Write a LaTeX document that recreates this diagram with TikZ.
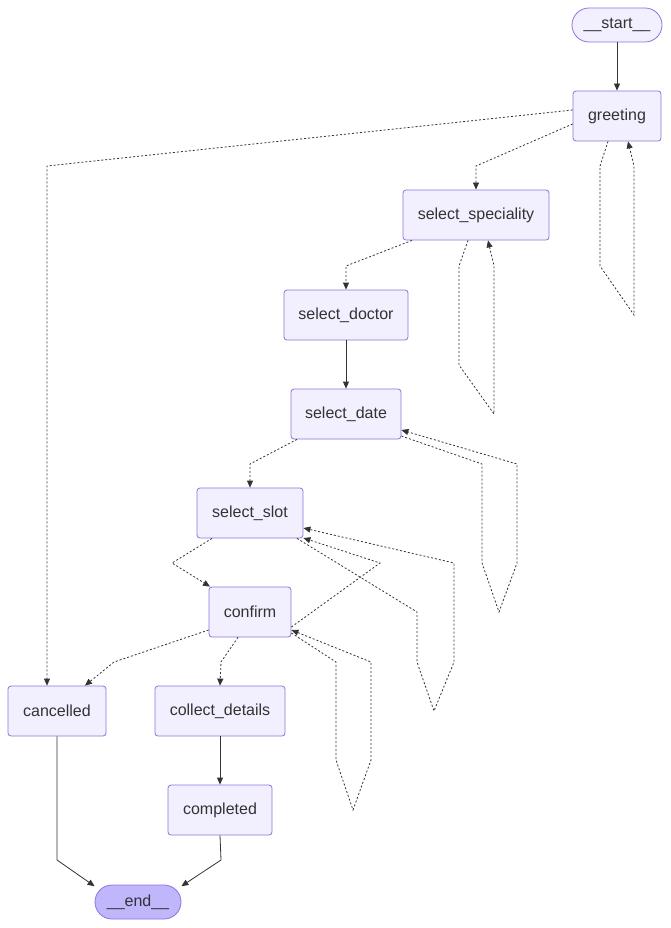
\documentclass[tikz,border=0pt]{standalone}
\usepackage{fontspec}
\setmainfont{Liberation Sans}
\usetikzlibrary{arrows.meta}
\definecolor{nodefill}{HTML}{F2F0FF}
\definecolor{nodeline}{HTML}{9370DB}
\definecolor{endfill}{HTML}{BFB6FC}
\definecolor{edgecol}{HTML}{333333}

\begin{document}
\begin{tikzpicture}[x=1pt, y=-1pt, >={Triangle[length=7pt,width=6pt]},
font=\fontsize{16}{19}\selectfont,
node_style/.style={rectangle,rounded corners=3pt,draw=nodeline,fill=nodefill,minimum height=50pt,line width=0.8pt,text=edgecol},
term_style/.style={node_style,rounded corners=17pt,minimum height=34pt},
edge_style/.style={draw=edgecol, line width=0.8pt, ->},
dotted_edge/.style={edge_style, dash pattern=on 2pt off 2pt}]
\useasboundingbox (0,0) rectangle (671,928);

\node[term_style,minimum width=90pt] (start) at (617,25) {\_\_start\_\_};
\node[node_style,minimum width=88pt] (greeting) at (617,116) {greeting};
\node[node_style,minimum width=146pt] (speciality) at (476,215) {select\_speciality};
\node[node_style,minimum width=124pt] (doctor) at (346,315) {select\_doctor};
\node[node_style,minimum width=110pt] (date) at (346,414) {select\_date};
\node[node_style,minimum width=106pt] (slot) at (250,513) {select\_slot};
\node[node_style,minimum width=82pt] (confirm) at (250,612) {confirm};
\node[node_style,minimum width=98pt] (cancelled) at (57,711) {cancelled};
\node[node_style,minimum width=130pt] (details) at (220,711) {collect\_details};
\node[node_style,minimum width=104pt] (completed) at (220,810) {completed};
\node[term_style,minimum width=86pt,fill=endfill] (endnode) at (138,902) {\_\_end\_\_};

% solid edges
\draw[edge_style] (start) -- (greeting);
\draw[edge_style] (doctor) -- (date);
\draw[edge_style] (details) -- (completed);
\draw[edge_style] (cancelled.south) -- (57,860) -- (endnode.160);
\draw[edge_style] (completed.south) -- (221,860) -- (endnode.20);

% conditional edges
\draw[dotted_edge] ([yshift=6pt]greeting.west) -- (47,166) -- ([xshift=-10pt]cancelled.north);
\draw[dotted_edge] ([yshift=-8pt]greeting.west) -- (476,166) -- (speciality.north);
\draw[dotted_edge] ([xshift=-9pt]greeting.south) -- (600,166) -- (600,266) -- (634,315) -- (634,166) -- ([xshift=11pt]greeting.south);
\draw[dotted_edge] ([xshift=-64pt]speciality.south) -- (346,266) -- (doctor.north);
\draw[dotted_edge] ([xshift=-8pt]speciality.south) -- (459,266) -- (459,365) -- (494,414) -- (494,266) -- ([xshift=12pt]speciality.south);
\draw[dotted_edge] ([xshift=-49pt]date.south) -- (250,464) -- (slot.north);
\draw[dotted_edge] ([yshift=-22pt]date.east) -- (482,464) -- (482,563) -- (499,612) -- (517,563) -- (517,464) -- ([yshift=-16pt]date.east);
\draw[dotted_edge] ([xshift=-38pt]slot.south) -- (172,563) -- ([xshift=-40pt]confirm.north);
\draw[dotted_edge] ([yshift=-15pt]confirm.east) -- (380,563) -- ([yshift=-25pt]slot.east);
\draw[dotted_edge] ([xshift=47pt]slot.south) -- (417,612) -- (417,662) -- (434,711) -- (454,662) -- (454,563) -- ([yshift=-15pt]slot.east);
\draw[dotted_edge] ([yshift=-18pt]confirm.west) -- (114,662) -- ([xshift=28pt]cancelled.north);
\draw[dotted_edge] ([xshift=-12pt]confirm.south) -- (221,662) -- (details.north);
\draw[dotted_edge] ([yshift=-21pt]confirm.east) -- (336,662) -- (336,760) -- (353,810) -- (371,760) -- (371,662) -- ([yshift=-18pt]confirm.east);

\end{tikzpicture}
\end{document}
